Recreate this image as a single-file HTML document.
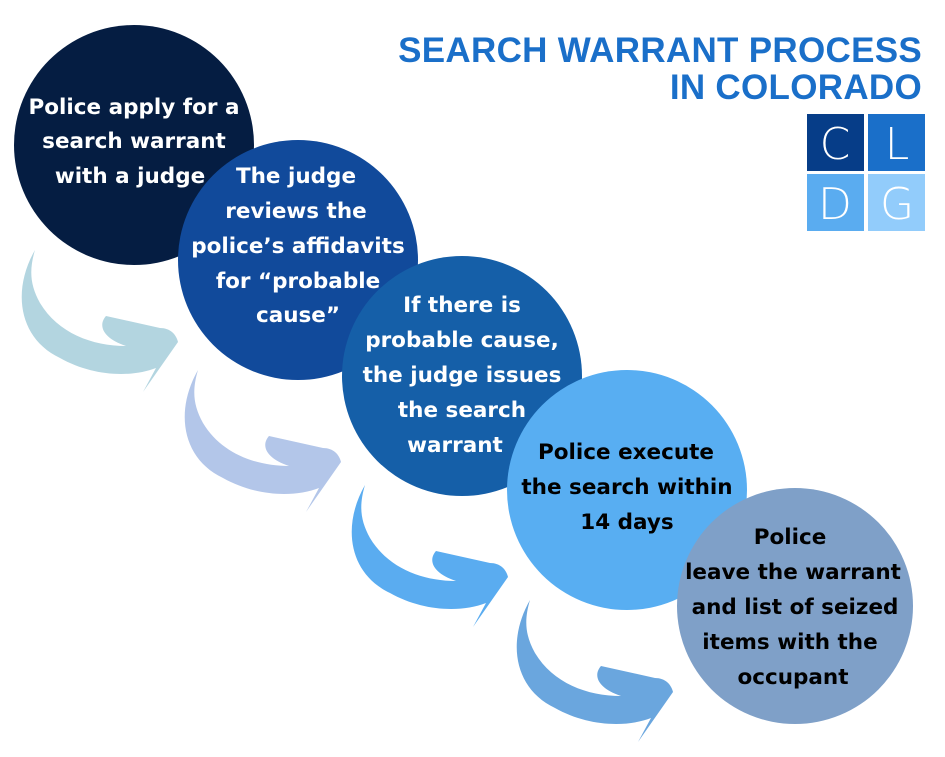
<!DOCTYPE html>
<html><head><meta charset="utf-8"><style>
body{margin:0;background:#fff;}
svg{display:block}
.t{font-family:"DejaVu Sans","Liberation Sans",sans-serif;font-weight:bold;font-size:21.5px;text-anchor:middle;fill:#fff}
.d{fill:#000}
.h{font-family:"Liberation Sans",sans-serif;font-weight:bold;font-size:35px;text-anchor:end;fill:#1a6fc9;letter-spacing:0.3px}
.l{font-family:"DejaVu Sans","Liberation Sans",sans-serif;font-size:44px;fill:#fff;text-anchor:middle;font-weight:200}
</style></head><body>
<svg width="945" height="757" viewBox="0 0 945 757" xmlns="http://www.w3.org/2000/svg">
<defs>
<path id="arr" d="M35,250 C12,290 18,338 60,358 C92,376 130,378 156,368 L143,392 L178,342 C176,334 170,328 160,328 L106,316 C98,325 102,338 126,346 C92,346 58,333 40,303 C30,285 29,270 35,250 Z"/>
</defs>
<use href="#arr" fill="#b3d5e0"/>
<use href="#arr" fill="#b3c6e9" transform="translate(163,120)"/>
<use href="#arr" fill="#5aacf0" transform="translate(330,235)"/>
<use href="#arr" fill="#6aa6de" transform="translate(495,350)"/>
<circle cx="134" cy="145" r="120" fill="#051d42"/>
<circle cx="298" cy="260" r="120" fill="#114a9b"/>
<circle cx="462" cy="376" r="120" fill="#155fa8"/>
<circle cx="627" cy="490" r="120" fill="#58aef2"/>
<circle cx="795" cy="606" r="118" fill="#7fa0c8"/>
<text class="t" x="134"><tspan x="134" y="114">Police apply for a</tspan><tspan x="134" y="148">search warrant</tspan><tspan x="130" y="183">with a judge</tspan></text>
<text class="t"><tspan x="296" y="183">The judge</tspan><tspan x="296" y="218">reviews the</tspan><tspan x="298" y="253">police’s affidavits</tspan><tspan x="298" y="288">for “probable</tspan><tspan x="298" y="322">cause”</tspan></text>
<text class="t"><tspan x="462" y="312">If there is</tspan><tspan x="462" y="347">probable cause,</tspan><tspan x="462" y="382">the judge issues</tspan><tspan x="462" y="417">the search</tspan><tspan x="455" y="452">warrant</tspan></text>
<text class="t d"><tspan x="626" y="459">Police execute</tspan><tspan x="627" y="494">the search within</tspan><tspan x="627" y="529">14 days</tspan></text>
<text class="t d"><tspan x="790" y="544">Police</tspan><tspan x="793" y="579">leave the warrant</tspan><tspan x="795" y="614">and list of seized</tspan><tspan x="790" y="649">items with the</tspan><tspan x="793" y="684">occupant</tspan></text>
<text class="h" x="922" y="62">SEARCH WARRANT PROCESS</text>
<text class="h" x="922" y="99">IN COLORADO</text>
<rect x="807" y="114" width="57" height="57" fill="#063d88"/>
<rect x="868" y="114" width="57" height="57" fill="#1a6fc9"/>
<rect x="807" y="174" width="57" height="57" fill="#5aacf0"/>
<rect x="868" y="174" width="57" height="57" fill="#92ccfb"/>
<text class="l" x="835" y="159">C</text>
<text class="l" x="897" y="159">L</text>
<text class="l" x="835" y="219">D</text>
<text class="l" x="897" y="219">G</text>
</svg>
</body></html>
